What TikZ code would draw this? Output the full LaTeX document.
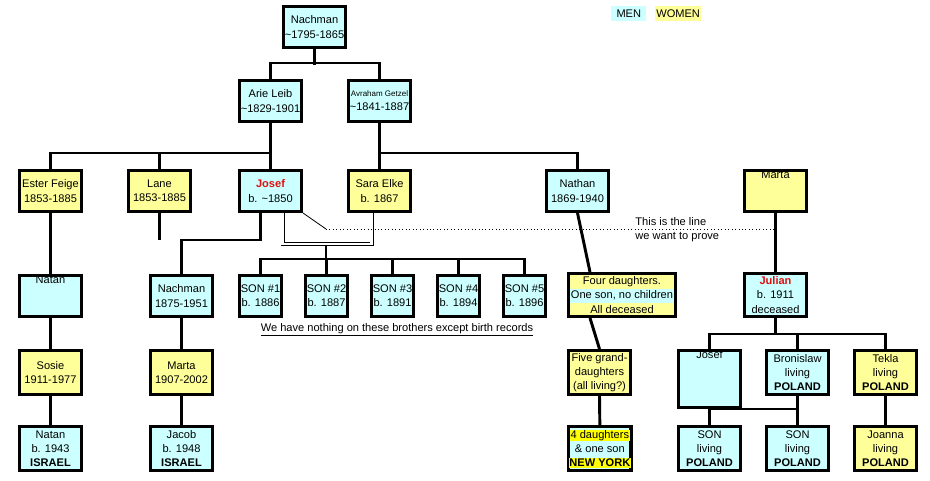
\documentclass[tikz,border=0pt]{standalone}
\usepackage{fontspec}
\setmainfont{Liberation Sans}
\usetikzlibrary{calc}
\definecolor{men}{HTML}{CCFFFF}
\definecolor{wom}{HTML}{FFFF99}
\definecolor{hi}{HTML}{FFFF00}
\definecolor{rd}{HTML}{E01010}
\begin{document}
\begin{tikzpicture}[x=0.75pt,y=-0.75pt,line width=2.2pt,
  bx/.style={draw,line width=2.4pt,align=center,inner sep=0pt,anchor=north west,
    font=\fontsize{8.3}{10.6}\selectfont,minimum width=#1*0.75pt-2.4pt},
  m/.style={fill=men},w/.style={fill=wom},
  lbl/.style={font=\fontsize{8.3}{10.6}\selectfont,inner sep=0pt}]
\useasboundingbox (0,0) rectangle (930,480);
% legend
\node[lbl,fill=men,minimum width=26pt,minimum height=11pt,anchor=north west] (lm) at (610,5) {MEN};
\node[lbl,fill=wom,minimum width=34pt,minimum height=11pt,anchor=north west] (lw) at (654,5) {WOMEN};
% rows
\tikzset{r1/.style={minimum height=44*0.75pt-2.4pt}}
\node[bx=65,m,r1] (nach) at (282,5) {Nachman\\\textasciitilde1795-1865};
\node[bx=65,m,r1] (arie) at (238,79) {Arie Leib\\\textasciitilde1829-1901};
\node[bx=65,m,r1] (avr) at (347,79) {{\fontsize{6}{8}\selectfont Avraham Getzel}\\\textasciitilde1841-1887};
\node[bx=65,w,r1] (ester) at (18,169) {Ester Feige\\1853-1885};
\node[bx=65,w,r1] (lane) at (127,169) {Lane\\1853-1885};
\node[bx=65,m,r1] (josef) at (238,169) {\textcolor{rd}{\textbf{Josef}}\\b. \textasciitilde1850};
\node[bx=65,w,r1] (sara) at (347,169) {Sara Elke\\b. 1867};
\node[bx=65,m,r1] (nathan) at (545,169) {Nathan\\1869-1940};
\node[bx=65,w,r1,anchor=north west] (marta) at (743,169) {Marta\\[14pt]~};
% row 4
\node[bx=65,m,r1] (natan) at (18,274) {Natan\\[14pt]~};
\node[bx=65,m,r1] (nach2) at (149,274) {Nachman\\1875-1951};
\node[bx=45,m,r1] (s1) at (238,274) {SON \#1\\b. 1886};
\node[bx=45,m,r1] (s2) at (304,274) {SON \#2\\b. 1887};
\node[bx=45,m,r1] (s3) at (370,274) {SON \#3\\b. 1891};
\node[bx=45,m,r1] (s4) at (436,274) {SON \#4\\b. 1894};
\node[bx=45,m,r1] (s5) at (502,274) {SON \#5\\b. 1896};
\fill[wom] (567,272) rectangle (676,318);
\fill[men] (567,289) rectangle (676,303);
\node[bx=110,r1,minimum height=46*0.75pt-2.4pt] (fd) at (567,272) {Four daughters.\\One son, no children\\All deceased};
\node[bx=65,m,r1,minimum height=46*0.75pt-2.4pt] (jul) at (743,272) {\textcolor{rd}{\textbf{Julian}}\\b. 1911\\deceased};
\node[lbl,anchor=north] (note) at (397,322) {\underline{We have nothing on these brothers except birth records}};
% row 5
\tikzset{r5/.style={minimum height=47*0.75pt-2.4pt}}
\node[bx=65,w,r5] (sosie) at (18,349) {Sosie\\1911-1977};
\node[bx=65,w,r5] (marta2) at (149,349) {Marta\\1907-2002};
\node[bx=65,w,r5] (five) at (567,349) {Five grand-\\daughters\\(all living?)};
\node[bx=65,m,r5] (jo2) at (677,349) {Josef\\[26pt]~};
\node[bx=65,m,r5] (bron) at (765,349) {Bronislaw\\living\\\textbf{POLAND}};
\node[bx=65,w,r5] (tekla) at (853,349) {Tekla\\living\\\textbf{POLAND}};
% row 6
\node[bx=65,m,r5] (natan2) at (18,425) {Natan\\b. 1943\\\textbf{ISRAEL}};
\node[bx=65,m,r5] (jacob) at (149,425) {Jacob\\b. 1948\\\textbf{ISRAEL}};
\node[bx=65,m,r5] (ny) at (567,425) {\setlength{\fboxsep}{0.6pt}\colorbox{hi}{4 daughters}\\\& one son\\\setlength{\fboxsep}{0.6pt}\colorbox{hi}{\textbf{NEW YORK}}};
\node[bx=65,m,r5] (sa) at (677,425) {SON\\living\\\textbf{POLAND}};
\node[bx=65,m,r5] (sb) at (765,425) {SON\\living\\\textbf{POLAND}};
\node[bx=65,w,r5] (joanna) at (853,425) {Joanna\\living\\\textbf{POLAND}};
% connectors
\draw (nach.south) -- ++(0,16);
\draw (arie.north) -- ++(0,-16) -| (avr.north);
\draw (arie.south) -- (josef.north);
\draw (ester.north) -- ++(0,-16) -| (josef.north);
\draw (lane.north) -- ++(0,-16);
\draw (avr.south) -- (sara.north);
\draw ($(sara.north)+(0,-16)$) -| (nathan.north);
\draw (ester.south) -- (natan.north);
\draw (natan.south) -- (sosie.north);
\draw (sosie.south) -- (natan2.north);
\draw ([xshift=-10*0.75pt]josef.south) -- ++(0,27) -| (nach2.north);
\draw (lane.south) -- ++(0,27);
\draw (nach2.south) -- (marta2.north);
\draw (marta2.south) -- (jacob.north);
\draw[line width=0.7pt,double distance=1.6pt] ([xshift=12*0.75pt]josef.south) -- ++(0,31) -| ([xshift=-8*0.75pt]sara.south);
\coordinate (dd) at (326,245);
\draw (dd) -- (326,259);
\draw (s1.north) -- ++(0,-15) -| (s5.north);
\draw (s2.north) -- ++(0,-15);
\draw (s3.north) -- ++(0,-15);
\draw (s4.north) -- ++(0,-15);
\coordinate (dk) at (326,229);
\coordinate (de) at (775,229);
\draw[line width=0.6pt] (josef.south east) -- (dk);
\draw[line width=0.6pt,dotted] (dk) -- (de);
\node[lbl,anchor=south west] (t1) at (634,227) {This is the line};
\node[lbl,anchor=north west] (t2) at (634,231) {we want to prove};
\draw (nathan.south) -- ([xshift=-32*0.75pt]fd.north);
\draw ([xshift=-32*0.75pt]fd.south) -- (five.north);
\draw (five.south) -- (ny.north);
\draw (marta.south) -- (jul.north);
\draw (jul.south) -- ++(0,15);
\draw (jo2.north) -- ++(0,-15) -| (tekla.north);
\draw (bron.north) -- ++(0,-15);
\draw (bron.south) -- (sb.north);
\draw (sa.north) -- ++(0,-16) -| (sb.north);
\draw (tekla.south) -- (joanna.north);
\end{tikzpicture}
\end{document}
